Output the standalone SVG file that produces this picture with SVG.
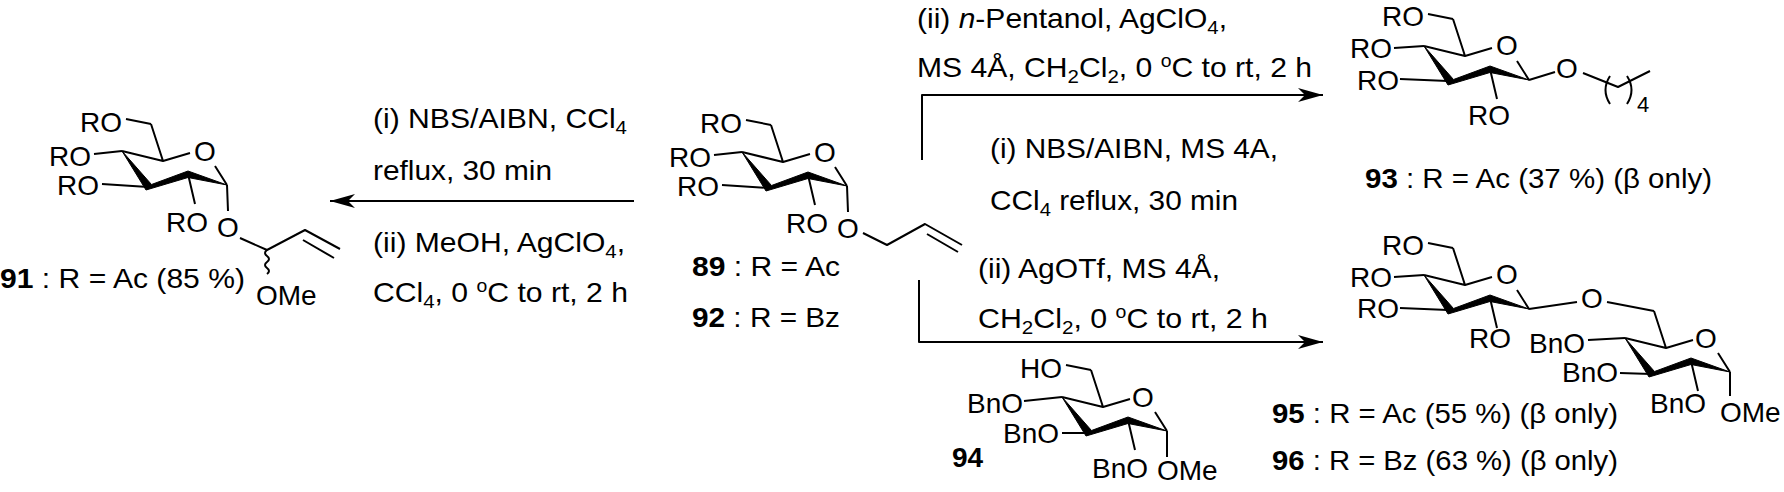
<svg xmlns="http://www.w3.org/2000/svg" xmlns:xlink="http://www.w3.org/1999/xlink" width="1784" height="492" viewBox="0 0 1784 492">
<style>
text{font-family:"Liberation Sans",Arial,sans-serif;font-size:28px;fill:#000}
.m{text-anchor:middle}.e{text-anchor:end}
.b{stroke:#000;stroke-width:2;fill:none;stroke-linejoin:round}
.w{fill:#000;stroke:#000;stroke-width:1;stroke-linejoin:round}
.sub{font-size:19px}.sup{font-size:18px}
.bd{font-weight:bold}
</style>
<defs>
<marker id="ah" viewBox="-26 -8 28 16" refX="0" refY="0" markerWidth="28" markerHeight="16" markerUnits="userSpaceOnUse" orient="auto" overflow="visible">
<path d="M0,0 L-25,-7 L-18,0 L-25,7 Z" fill="#000"/>
</marker>
<g id="core">
<path class="b" d="M29,-27 L41,10 L0,0 M41,10 L68,2 M93,15 L105,34 M66,23 L73,53"/>
<polygon class="w" points="0,0 29.5,33.5 66,20 105,34 66,26.5 24,39"/>
</g>
</defs>
<rect width="1784" height="492" fill="#fff"/>

<g id="connectors">
<line class="b" x1="634" y1="201" x2="330" y2="201" marker-end="url(#ah)"/>
<path class="b" d="M922,160 L922,95 L1323,95" marker-end="url(#ah)"/>
<path class="b" d="M919,280 L919,342 L1323,342" marker-end="url(#ah)"/>
</g>

<g id="conditions">
<text x="373" y="128" textLength="254" lengthAdjust="spacingAndGlyphs">(i) NBS/AIBN, CCl<tspan class="sub" dy="6">4</tspan></text>
<text x="373" y="180" textLength="179" lengthAdjust="spacingAndGlyphs">reflux, 30 min</text>
<text x="373" y="252" textLength="252" lengthAdjust="spacingAndGlyphs">(ii) MeOH, AgClO<tspan class="sub" dy="6">4</tspan><tspan dy="-6">,</tspan></text>
<text x="373" y="302" textLength="255" lengthAdjust="spacingAndGlyphs">CCl<tspan class="sub" dy="6">4</tspan><tspan dy="-6">, 0 </tspan><tspan class="sup" dy="-10">o</tspan><tspan dy="10">C to rt, 2 h</tspan></text>
<text x="917" y="28" textLength="310" lengthAdjust="spacingAndGlyphs">(ii) <tspan font-style="italic">n</tspan>-Pentanol, AgClO<tspan class="sub" dy="6">4</tspan><tspan dy="-6">,</tspan></text>
<text x="917" y="77" textLength="395" lengthAdjust="spacingAndGlyphs">MS 4Å, CH<tspan class="sub" dy="6">2</tspan><tspan dy="-6">Cl</tspan><tspan class="sub" dy="6">2</tspan><tspan dy="-6">, 0 </tspan><tspan class="sup" dy="-10">o</tspan><tspan dy="10">C to rt, 2 h</tspan></text>
<text x="990" y="158" textLength="288" lengthAdjust="spacingAndGlyphs">(i) NBS/AIBN, MS 4A,</text>
<text x="990" y="210" textLength="248" lengthAdjust="spacingAndGlyphs">CCl<tspan class="sub" dy="6">4</tspan><tspan dy="-6"> reflux, 30 min</tspan></text>
<text x="978" y="278" textLength="242" lengthAdjust="spacingAndGlyphs">(ii) AgOTf, MS 4Å,</text>
<text x="978" y="328" textLength="290" lengthAdjust="spacingAndGlyphs">CH<tspan class="sub" dy="6">2</tspan><tspan dy="-6">Cl</tspan><tspan class="sub" dy="6">2</tspan><tspan dy="-6">, 0 </tspan><tspan class="sup" dy="-10">o</tspan><tspan dy="10">C to rt, 2 h</tspan></text>
</g>

<g id="n91">
<g transform="translate(122,151)">
<use href="#core"/>
<path class="b" d="M4,-32 L29,-27 M-28,3 L0,0 M-20,33 L26,36 M105,34 L106,60"/>
<text class="e" x="0" y="-19">RO</text>
<text class="e" x="-31" y="15">RO</text>
<text class="e" x="-23" y="44">RO</text>
<text class="m" x="83" y="10">O</text>
<text class="m" x="65" y="81">RO</text>
<text class="m" x="106" y="86">O</text>
</g>
<path class="b" d="M240,238 L267,250 L305,230 L340,249 M303,240 L334,258"/>
<path class="b" stroke-width="1.5" d="M267,250 q-4,3 0,6 q4,3 0,6 q-4,3 0,6 q4,3 0,6"/>
<text x="256" y="305">OMe</text>
<text x="0" y="288" textLength="245" lengthAdjust="spacingAndGlyphs"><tspan class="bd">91</tspan> : R = Ac (85 %)</text>
</g>

<g id="n89">
<g transform="translate(742,152)">
<use href="#core"/>
<path class="b" d="M4,-32 L29,-27 M-28,3 L0,0 M-20,33 L26,36 M105,34 L106,60"/>
<text class="e" x="0" y="-19">RO</text>
<text class="e" x="-31" y="15">RO</text>
<text class="e" x="-23" y="44">RO</text>
<text class="m" x="83" y="10">O</text>
<text class="m" x="65" y="81">RO</text>
<text class="m" x="106" y="86">O</text>
</g>
<path class="b" d="M863,233 L887,245 L925,224 L962,245 M927,234 L958,252"/>
<text x="692" y="276" textLength="148" lengthAdjust="spacingAndGlyphs"><tspan class="bd">89</tspan> : R = Ac</text>
<text x="692" y="327" textLength="148" lengthAdjust="spacingAndGlyphs"><tspan class="bd">92</tspan> : R = Bz</text>
</g>

<g id="n94">
<g transform="translate(1062,397)">
<use href="#core"/>
<path class="b" d="M4,-32 L29,-27 M-38,4 L0,0 M0,36 L26,36 M105,34 L105,60"/>
<text class="e" x="0" y="-19">HO</text>
<text class="e" x="-39" y="16">BnO</text>
<text class="e" x="-3" y="46">BnO</text>
<text class="m" x="81" y="10">O</text>
<text class="m" x="58" y="81">BnO</text>
<text x="95" y="83">OMe</text>
</g>
<text class="bd" x="952" y="467">94</text>
</g>

<g id="n93">
<g transform="translate(1424,46)">
<use href="#core"/>
<path class="b" d="M4,-32 L29,-27 M-30,2 L0,0 M-24,33 L24,35 M105,34 L131,26"/>
<text class="e" x="0" y="-20">RO</text>
<text class="e" x="-32" y="12">RO</text>
<text class="e" x="-25" y="44">RO</text>
<text class="m" x="83" y="9">O</text>
<text class="m" x="65" y="79">RO</text>
<text class="m" x="143" y="32">O</text>
</g>
<path class="b" d="M1583,73 L1618,87 L1650,71"/>
<path class="b" stroke-width="1.5" d="M1610,76 Q1601,90 1610,104 M1627,76 Q1636,90 1627,104"/>
<text x="1637" y="112" style="font-size:22px">4</text>
<text x="1365" y="188" textLength="347" lengthAdjust="spacingAndGlyphs"><tspan class="bd">93</tspan> : R = Ac (37 %) (β only)</text>
</g>

<g id="n95">
<g transform="translate(1424,275)">
<use href="#core"/>
<path class="b" d="M4,-32 L29,-27 M-30,2 L0,0 M-24,33 L24,35 M105,34 L153,27"/>
<text class="e" x="0" y="-20">RO</text>
<text class="e" x="-32" y="12">RO</text>
<text class="e" x="-25" y="43">RO</text>
<text class="m" x="83" y="9">O</text>
<text class="m" x="66" y="73">RO</text>
<text class="m" x="168" y="33">O</text>
</g>
<path class="b" d="M1607,302 L1654,311"/>
<g transform="translate(1625,338)">
<use href="#core"/>
<path class="b" d="M-37,2 L0,0 M-5,35 L26,36 M105,34 L105,58"/>
<text class="e" x="-40" y="15">BnO</text>
<text class="e" x="-7" y="44">BnO</text>
<text class="m" x="81" y="10">O</text>
<text class="m" x="53" y="75">BnO</text>
<text x="95" y="84">OMe</text>
</g>
<text x="1272" y="423" textLength="346" lengthAdjust="spacingAndGlyphs"><tspan class="bd">95</tspan> : R = Ac (55 %) (β only)</text>
<text x="1272" y="470" textLength="346" lengthAdjust="spacingAndGlyphs"><tspan class="bd">96</tspan> : R = Bz (63 %) (β only)</text>
</g>
</svg>
